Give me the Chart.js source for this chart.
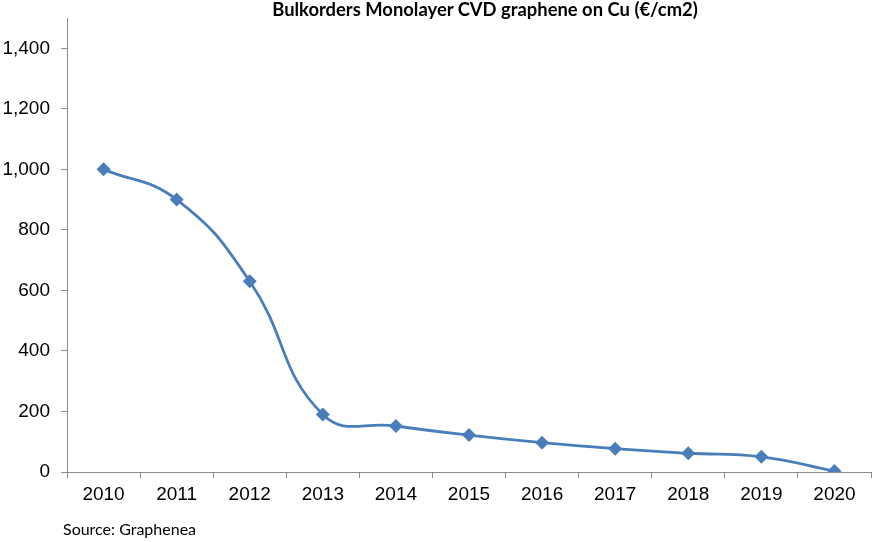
<!DOCTYPE html>
<html>
<head>
<meta charset="utf-8">
<script src="https://cdn.jsdelivr.net/npm/chart.js@4.4.1/dist/chart.umd.min.js"></script>
<style>
  html, body { margin: 0; padding: 0; background: #fff; }
  #wrap { position: relative; width: 878px; height: 542px; }
  #titulo { position: absolute; top: -2px; left: 0; width: 878px; text-align: center; padding-left: 92px; box-sizing: border-box;
            font: bold 18.4px Lato, "Open Sans", sans-serif; color: #000; }
  #fonte { position: absolute; left: 63px; top: 519px; font: 16px Lato, "Open Sans", sans-serif; color: #000; }
</style>
</head>
<body>
<div id="wrap">
  <canvas id="grafico" width="878" height="542"></canvas>
  <div id="titulo">Bulkorders Monolayer CVD graphene on Cu (€/cm2)</div>
  <div id="fonte">Source: Graphenea</div>
</div>
<script>
// dados
const anos = ['2010', '2011', '2012', '2013', '2014', '2015', '2016', '2017', '2018', '2019', '2020'];
const precos = [1000, 900, 630, 190, 152, 122, 97, 77, 62, 50, 3];
const ticksY = [0, 200, 400, 600, 800, 1000, 1200, 1400];

const azul = '#4a7ebb';
const cinza = '#8c8c8c';

const ctx = document.getElementById('grafico').getContext('2d');
new Chart(ctx, {
    type: 'line',
    data: {
        labels: anos,
        datasets: [{
            data: precos,
            borderColor: azul,
            backgroundColor: azul,
            borderWidth: 2.8,
            tension: 0.45,
            pointStyle: 'rectRot',
            pointRadius: 7,
            pointBorderWidth: 0,
        }],
    },
    options: {
        responsive: false,
        animation: false,
        layout: { padding: { top: 18, right: 3, left: 0, bottom: 0 } },
        plugins: {
            legend: { display: false },
            tooltip: { enabled: false },
        },
        scales: {
            x: {
                offset: true,
                grid: { offset: true, drawOnChartArea: false, color: cinza, tickLength: 6 },
                border: { color: cinza, width: 1 },
                ticks: { color: '#000', font: { family: 'Liberation Sans', size: 19 }, padding: 5, maxRotation: 0 },
                afterFit: (scale) => { scale.height = 70; },
            },
            y: {
                min: 0,
                max: 1500,
                afterBuildTicks: (scale) => { scale.ticks = ticksY.map((v) => ({ value: v })); },
                grid: { drawOnChartArea: false, color: cinza, tickLength: 6 },
                border: { color: cinza, width: 1 },
                ticks: {
                    color: '#000',
                    font: { family: 'Liberation Sans', size: 19 },
                    padding: 11,
                    callback: (v) => v.toLocaleString('en-US'),
                },
                afterFit: (scale) => {
                    scale.width = 67;
                    scale.paddingTop = 0;
                    scale.paddingBottom = 0;
                },
            },
        },
    },
});
</script>
</body>
</html>
